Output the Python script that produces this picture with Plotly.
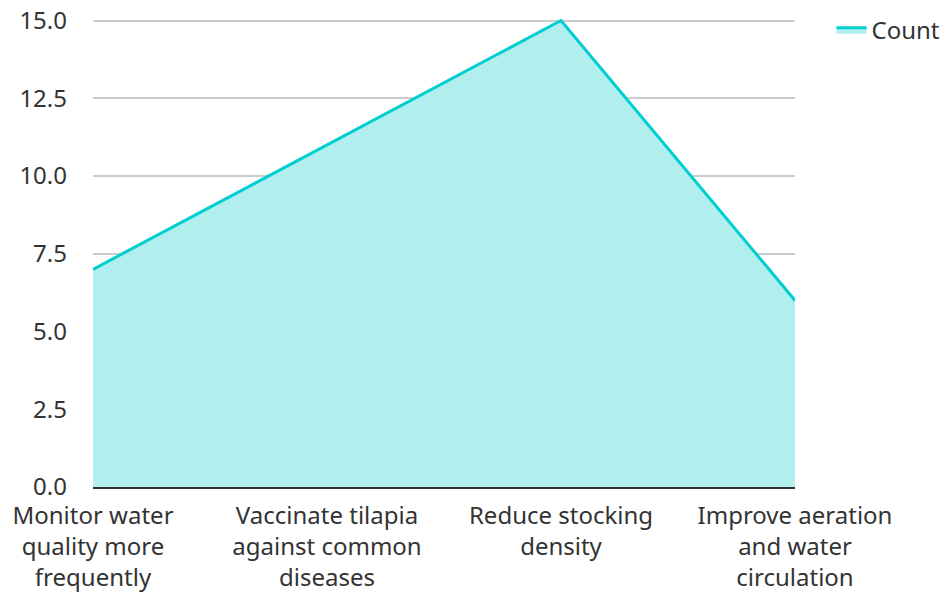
import plotly.graph_objects as go

categories = [
    "Monitor water<br>quality more<br>frequently",
    "Vaccinate tilapia<br>against common<br>diseases",
    "Reduce stocking<br>density",
    "Improve aeration<br>and water<br>circulation",
]
counts = [7, 11, 15, 6]
y_ticks = [0, 2.5, 5, 7.5, 10, 12.5, 15]

fig = go.Figure()
fig.add_trace(go.Scatter(
    x=list(range(len(categories))), y=counts, name="Count",
    mode="lines", fill="tozeroy",
    line=dict(color="#00CED1", width=3),
    fillcolor="#B0EFEE",
))

FONT = "Noto Sans"
FS = 24
fig.update_layout(
    width=951, height=592,
    margin=dict(l=85, r=164, t=11, b=113, autoexpand=False),
    paper_bgcolor="white", plot_bgcolor="white",
    font=dict(family=FONT, size=FS, color="#333333"),
    showlegend=True,
    legend=dict(x=1.052, y=1.024, xanchor="left", yanchor="top",
                font=dict(size=FS, color="#333333"),
                bgcolor="rgba(0,0,0,0)"),
    xaxis=dict(
        tickmode="array", tickvals=list(range(len(categories))), ticktext=categories,
        range=[0, 3], showgrid=False, zeroline=False, automargin=False,
        showline=True, linecolor="#333333", linewidth=2,
        ticks="", tickfont=dict(size=FS, color="#333333"), ticklabelstandoff=6,
        ticklabeloverflow="allow",
    ),
    yaxis=dict(
        range=[0, 15.05], tickvals=y_ticks, tickformat=".1f", automargin=False,
        showgrid=True, gridcolor="#cccccc", gridwidth=1.5,
        zeroline=False, showline=False, ticks="",
        tickfont=dict(size=FS, color="#333333"), ticklabelstandoff=25,
        ticklabeloverflow="allow",
    ),
)
fig.write_html("out.html")
